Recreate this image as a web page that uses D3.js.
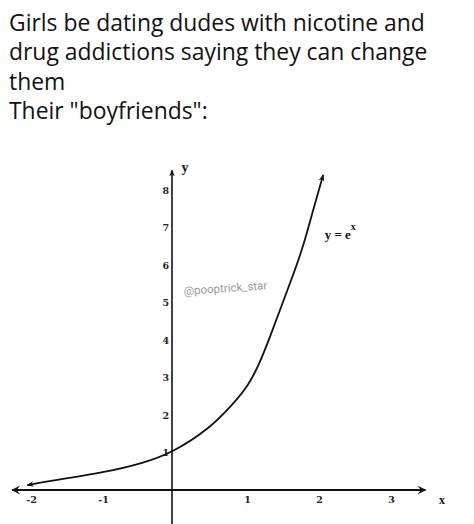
<!DOCTYPE html>
<html>
<head>
<meta charset="utf-8">
<script src="https://cdn.jsdelivr.net/npm/d3@7"></script>
<style>
  body { margin: 0; background: #fff; }
  svg { display: block; }
</style>
</head>
<body>
<script>
var titleLines = ['Girls be dating dudes with nicotine and',
                  'drug addictions saying they can change',
                  'them',
                  'Their "boyfriends":'];
var xTicks = [-2, -1, 1, 2, 3];
var yTicks = [1, 2, 3, 4, 5, 6, 7, 8];
// points
var curveX = [-2.01, -1.79, -0.90, -0.40, 0, 0.53, 0.85, 1.06, 1.22, 1.36, 1.50, 1.64, 1.81, 1.96, 2.10];
var curveY = [0.13, 0.21, 0.48, 0.72, 0.99, 1.65, 2.3, 2.78, 3.39, 4.08, 4.8, 5.52, 6.4, 7.47, 8.4];
var xExtent = [-2.22, 3.52];
var yExtent = [-1, 8.53];

var svg = d3.select("body").append("svg").attr("width", 474).attr("height", 524);

svg.append("g").selectAll("text")
  .data(titleLines)
  .enter().append("text")
    .attr("x", 9)
    .attr("y", function(d, i) { return 31 + i * 29.3; })
    .attr("font-family", "'Open Sans', sans-serif")
    .attr("font-size", 22.9)
    .attr("fill", "#111")
    .text(function(d) { return d; });

var x = d3.scaleLinear().domain([0, 1]).range([172, 244]);
var y = d3.scaleLinear().domain([0, 8]).range([490, 190]);

var defs = svg.append("defs");
defs.append("marker")
  .attr("id", "arrow")
  .attr("viewBox", "0 0 10 10")
  .attr("refX", 9).attr("refY", 5)
  .attr("markerWidth", 7).attr("markerHeight", 7)
  .attr("markerUnits", "userSpaceOnUse")
  .attr("orient", "auto-start-reverse")
  .append("path").attr("d", "M0,1 L10,5 L0,9 L3,5 Z").attr("fill", "#111");
defs.append("marker")
  .attr("id", "bigarrow")
  .attr("viewBox", "0 0 10 10")
  .attr("refX", 9).attr("refY", 5)
  .attr("markerWidth", 16).attr("markerHeight", 9)
  .attr("markerUnits", "userSpaceOnUse")
  .attr("orient", "auto-start-reverse")
  .append("path").attr("d", "M0,0 L10,5 L0,10 L4,5 Z").attr("fill", "#111");

// axes lines
svg.append("line")
  .attr("x1", x(xExtent[0])).attr("x2", x(xExtent[1]))
  .attr("y1", y(0)).attr("y2", y(0))
  .attr("stroke", "#111").attr("stroke-width", 2)
  .attr("marker-start", "url(#bigarrow)")
  .attr("marker-end", "url(#bigarrow)");
svg.append("line")
  .attr("x1", x(0)).attr("x2", x(0))
  .attr("y1", y(yExtent[0])).attr("y2", y(yExtent[1]))
  .attr("stroke", "#111").attr("stroke-width", 1.6)
  .attr("marker-end", "url(#arrow)");

var xAxis = d3.axisBottom(x).tickValues(xTicks).tickSize(0).tickPadding(6)
  .tickFormat(function(d) { return d; });
var gx = svg.append("g").attr("transform", "translate(3," + y(0) + ")").call(xAxis);
gx.select(".domain").remove();

var yAxis = d3.axisLeft(y).tickValues(yTicks).tickSize(0).tickPadding(3);
var gy = svg.append("g").attr("transform", "translate(" + x(0) + ",0)").call(yAxis);
gy.select(".domain").remove();

svg.selectAll(".tick text")
  .attr("font-family", "'DejaVu Serif', serif")
  .attr("font-weight", "bold")
  .attr("font-size", 9.5)
  .attr("fill", "#222");

// axis names
svg.append("text")
  .attr("x", x(0) + 13).attr("y", y(yExtent[1]) + 2)
  .attr("font-family", "'Liberation Serif', serif")
  .attr("font-weight", "bold").attr("font-size", 14)
  .attr("text-anchor", "middle").attr("fill", "#111")
  .text("y");
svg.append("text")
  .attr("x", x(3.75)).attr("y", y(0) + 14)
  .attr("font-family", "'Liberation Serif', serif")
  .attr("font-weight", "bold").attr("font-size", 12)
  .attr("text-anchor", "middle").attr("fill", "#111")
  .text("x");

// curve
var pts = curveX.map(function(d, i) { return [d, curveY[i]]; });
var line = d3.line()
  .x(function(d) { return x(d[0]); })
  .y(function(d) { return y(d[1]); })
  .curve(d3.curveBasis);
svg.append("path")
  .datum(pts)
  .attr("d", line)
  .attr("fill", "none")
  .attr("stroke", "#111")
  .attr("stroke-width", 1.8)
  .attr("marker-start", "url(#arrow)")
  .attr("marker-end", "url(#arrow)");

// curve label
var lab = svg.append("text")
  .attr("x", x(2.12)).attr("y", y(6.7))
  .attr("font-family", "'Liberation Serif', serif")
  .attr("font-weight", "bold").attr("font-size", 13)
  .attr("fill", "#111");
lab.append("tspan").text("y = e");
lab.append("tspan").attr("dy", -9).attr("font-size", 10).text("x");

// watermark
svg.append("text")
  .attr("transform", "translate(184,295) rotate(-4)")
  .attr("font-family", "Roboto, sans-serif")
  .attr("font-size", 11.5)
  .attr("fill", "#9a9a9a")
  .text("@pooptrick_star");
</script>
</body>
</html>
